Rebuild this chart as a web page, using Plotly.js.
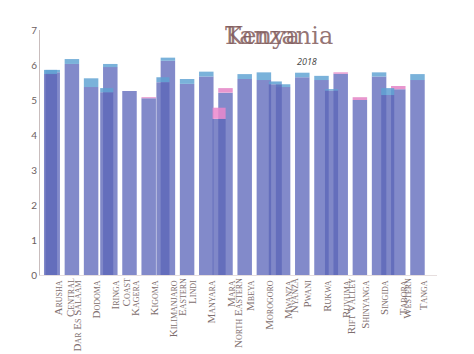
<!DOCTYPE html>
<html><head><meta charset="utf-8">
<script src="https://cdn.plot.ly/plotly-3.0.1.min.js"></script>
<style>html,body{margin:0;padding:0;background:#fff}#chart{width:474px;height:354px}</style>
</head><body><div id="chart"></div>
<script>
// Tanzania regions and values (two overlaid survey rounds)
var tzRegions = ['Arusha','Dar Es Salaam','Dodoma','Iringa','Kagera','Kigoma','Kilimanjaro','Lindi','Manyara','Mara',
                 'Mbeya','Morogoro','Mwanza','Pwani','Rukwa','Ruvuma','Shinyanga','Singida','Tabora','Tanga'];
var tzEarlier = [5.86,6.17,5.62,6.03,5.26,5.08,6.21,5.60,5.81,5.34,5.74,5.79,5.45,5.78,5.69,5.79,5.08,5.79,5.40,5.74];
var tzLater   = [5.79,6.03,5.37,5.94,5.26,5.05,6.12,5.46,5.67,5.21,5.60,5.57,5.37,5.65,5.57,5.75,5.00,5.67,5.31,5.57];
// Kenya regions and values
var keRegions = ['Central','Coast','Eastern','North Eastern','Nyanza','Rift Valley','Western'];
var keEarlier = [5.86,5.34,5.65,4.78,5.53,5.31,5.34];
var keLater   = [5.74,5.22,5.51,4.46,5.45,5.27,5.14];
var titles = ['Kenya','Tanzania'];
var yearLabel = '2018';

// styles
var BLUE = 'rgb(122,178,218)', PINK = 'rgb(232,150,206)', PURPLE = 'rgb(130,138,202)';
var KBLUE = 'rgba(95,160,210,0.85)', KPINK = 'rgba(235,135,205,0.85)', KPURPLE = 'rgba(92,102,185,0.78)';
var pinkTz = ['Kigoma','Mara','Ruvuma','Shinyanga','Tabora'];
var tzCapColors = tzRegions.map(function(r){return pinkTz.indexOf(r)>=0?PINK:BLUE;});
var keCapColors = keRegions.map(function(r){return r==='North Eastern'?KPINK:KBLUE;});
var tzCap = tzEarlier.map(function(v,i){return v - tzLater[i];});
var keCap = keEarlier.map(function(v,i){return v - keLater[i];});

var TZW = 0.755, TZO = -0.664, KEW = 0.232, KEO = -0.463;
var traces = [
  {type:'bar', x:tzRegions, y:tzLater, xaxis:'x', yaxis:'y', width:TZW, offset:TZO, marker:{color:PURPLE}, hoverinfo:'skip'},
  {type:'bar', x:tzRegions, y:tzCap, base:tzLater, xaxis:'x', yaxis:'y', width:TZW, offset:TZO, marker:{color:tzCapColors}, hoverinfo:'skip'},
  {type:'bar', x:keRegions, y:keLater, xaxis:'x2', yaxis:'y', width:KEW, offset:KEO, marker:{color:KPURPLE}, hoverinfo:'skip'},
  {type:'bar', x:keRegions, y:keCap, base:keLater, xaxis:'x2', yaxis:'y', width:KEW, offset:KEO, marker:{color:keCapColors}, hoverinfo:'skip'}
];

var tickFont = {family:'Liberation Serif, serif', size:11, color:'#7d6d6d', variant:'small-caps'};
var layout = {
  width:474, height:354, showlegend:false, barmode:'overlay',
  paper_bgcolor:'#fff', plot_bgcolor:'#fff',
  margin:{l:40, r:37, t:30, b:78.5},
  xaxis:{type:'category', range:[-0.948,19.73], tickangle:-90, tickfont:tickFont, showgrid:false,
         showline:true, linecolor:'#e6dede', linewidth:1, ticks:'', zeroline:false, fixedrange:true},
  xaxis2:{type:'category', overlaying:'x', side:'bottom', range:[-0.534,6.53], tickangle:-90, tickfont:tickFont,
          showgrid:false, showline:false, ticks:'', zeroline:false, fixedrange:true},
  yaxis:{range:[0,7], dtick:1, showgrid:false, zeroline:false, showline:true, linecolor:'#c9bdbd', linewidth:1,
         ticks:'', tickfont:{family:'Lato, sans-serif', size:10, color:'#6b5e5e'}, fixedrange:true},
  annotations:[
    {text:titles[0], xref:'paper', yref:'paper', x:0.461, y:0.976, xanchor:'left', yanchor:'middle', showarrow:false,
     font:{family:'DejaVu Serif, serif', size:24, color:'rgba(130,92,92,0.85)'}},
    {text:titles[1], xref:'paper', yref:'paper', x:0.461, y:0.976, xanchor:'left', yanchor:'middle', showarrow:false,
     font:{family:'DejaVu Serif, serif', size:24, color:'rgba(130,92,92,0.85)'}},
    {text:yearLabel, xref:'paper', yref:'paper', x:0.672, y:0.87, xanchor:'center', yanchor:'middle', showarrow:false,
     font:{family:'Open Sans, sans-serif', size:9, color:'#4a4a4a', style:'italic'}}
  ]
};
Plotly.newPlot('chart', traces, layout, {staticPlot:true, displayModeBar:false});
</script></body></html>
